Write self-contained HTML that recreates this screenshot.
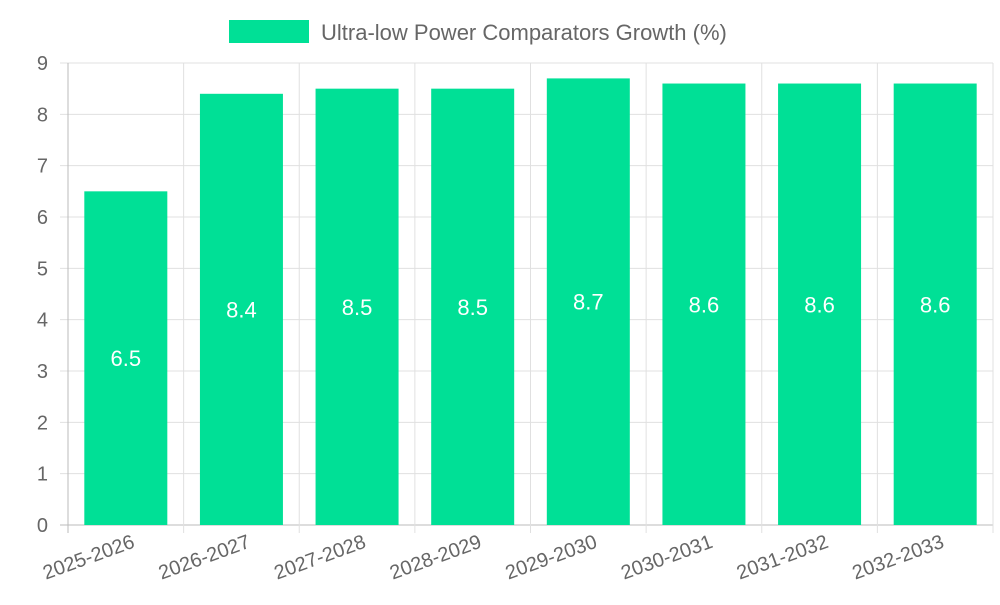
<!DOCTYPE html>
<html><head><meta charset="utf-8"><style>
body{margin:0;background:#fff;}
svg text{font-family:"Liberation Sans",sans-serif;}
</style></head><body>
<svg id="chart" width="1000" height="600"></svg>
<script>
const categories=["2025-2026","2026-2027","2027-2028","2028-2029","2029-2030","2030-2031","2031-2032","2032-2033"];
const values=[6.5,8.4,8.5,8.5,8.7,8.6,8.6,8.6];
const yTicks=[0,1,2,3,4,5,6,7,8,9];
const svg=document.getElementById('chart');
const NS='http://www.w3.org/2000/svg';
const L=68,R=993,T=63,B=525,yMax=9;
const bw=(R-L)/categories.length;
const y=v=>B-(v/yMax)*(B-T);
const xc=i=>L+bw*(i+0.5);
function mk(tag,attrs,txt){const e=document.createElementNS(NS,tag);for(const k in attrs)e.setAttribute(k,attrs[k]);if(txt!==undefined)e.textContent=txt;svg.appendChild(e);return e;}
yTicks.forEach(t=>{
 const g=mk('line',{x1:L-8,x2:R,y1:y(t),y2:y(t),stroke:t===0?'#bbb':'#e0e0e0','stroke-width':1});
 
 
 const tx=mk('text',{x:L-20,y:y(t)+7,'text-anchor':'end','font-size':20,fill:'#666'},t);
 
 
});
for(let i=0;i<=categories.length;i++){
 const x=L+bw*i;
 const g=mk('line',{x1:x,x2:x,y1:T,y2:B+8,stroke:i===0?'#bbb':'#e0e0e0','stroke-width':1});
 
 
}
categories.forEach((c,i)=>{
 const b=mk('rect',{x:xc(i)-41.5,y:y(values[i]),width:83,height:B-y(values[i]),fill:'#00e096'});
 
 
 const v=mk('text',{x:xc(i),y:(y(values[i])+B)/2+8,'text-anchor':'middle','font-size':22,fill:'#fff'},values[i]);
 
 
 const l=mk('text',{x:xc(i)+10,y:B+22,'text-anchor':'end','font-size':20,fill:'#666',transform:`rotate(-20 ${xc(i)+10} ${B+22})`},c);
 
 
});
const lb=mk('rect',{x:229,y:20,width:80,height:23,fill:'#00e096'});


const lt=mk('text',{x:321,y:40,'font-size':22,fill:'#666'},'Ultra-low Power Comparators Growth (%)');


</script>
</body></html>
